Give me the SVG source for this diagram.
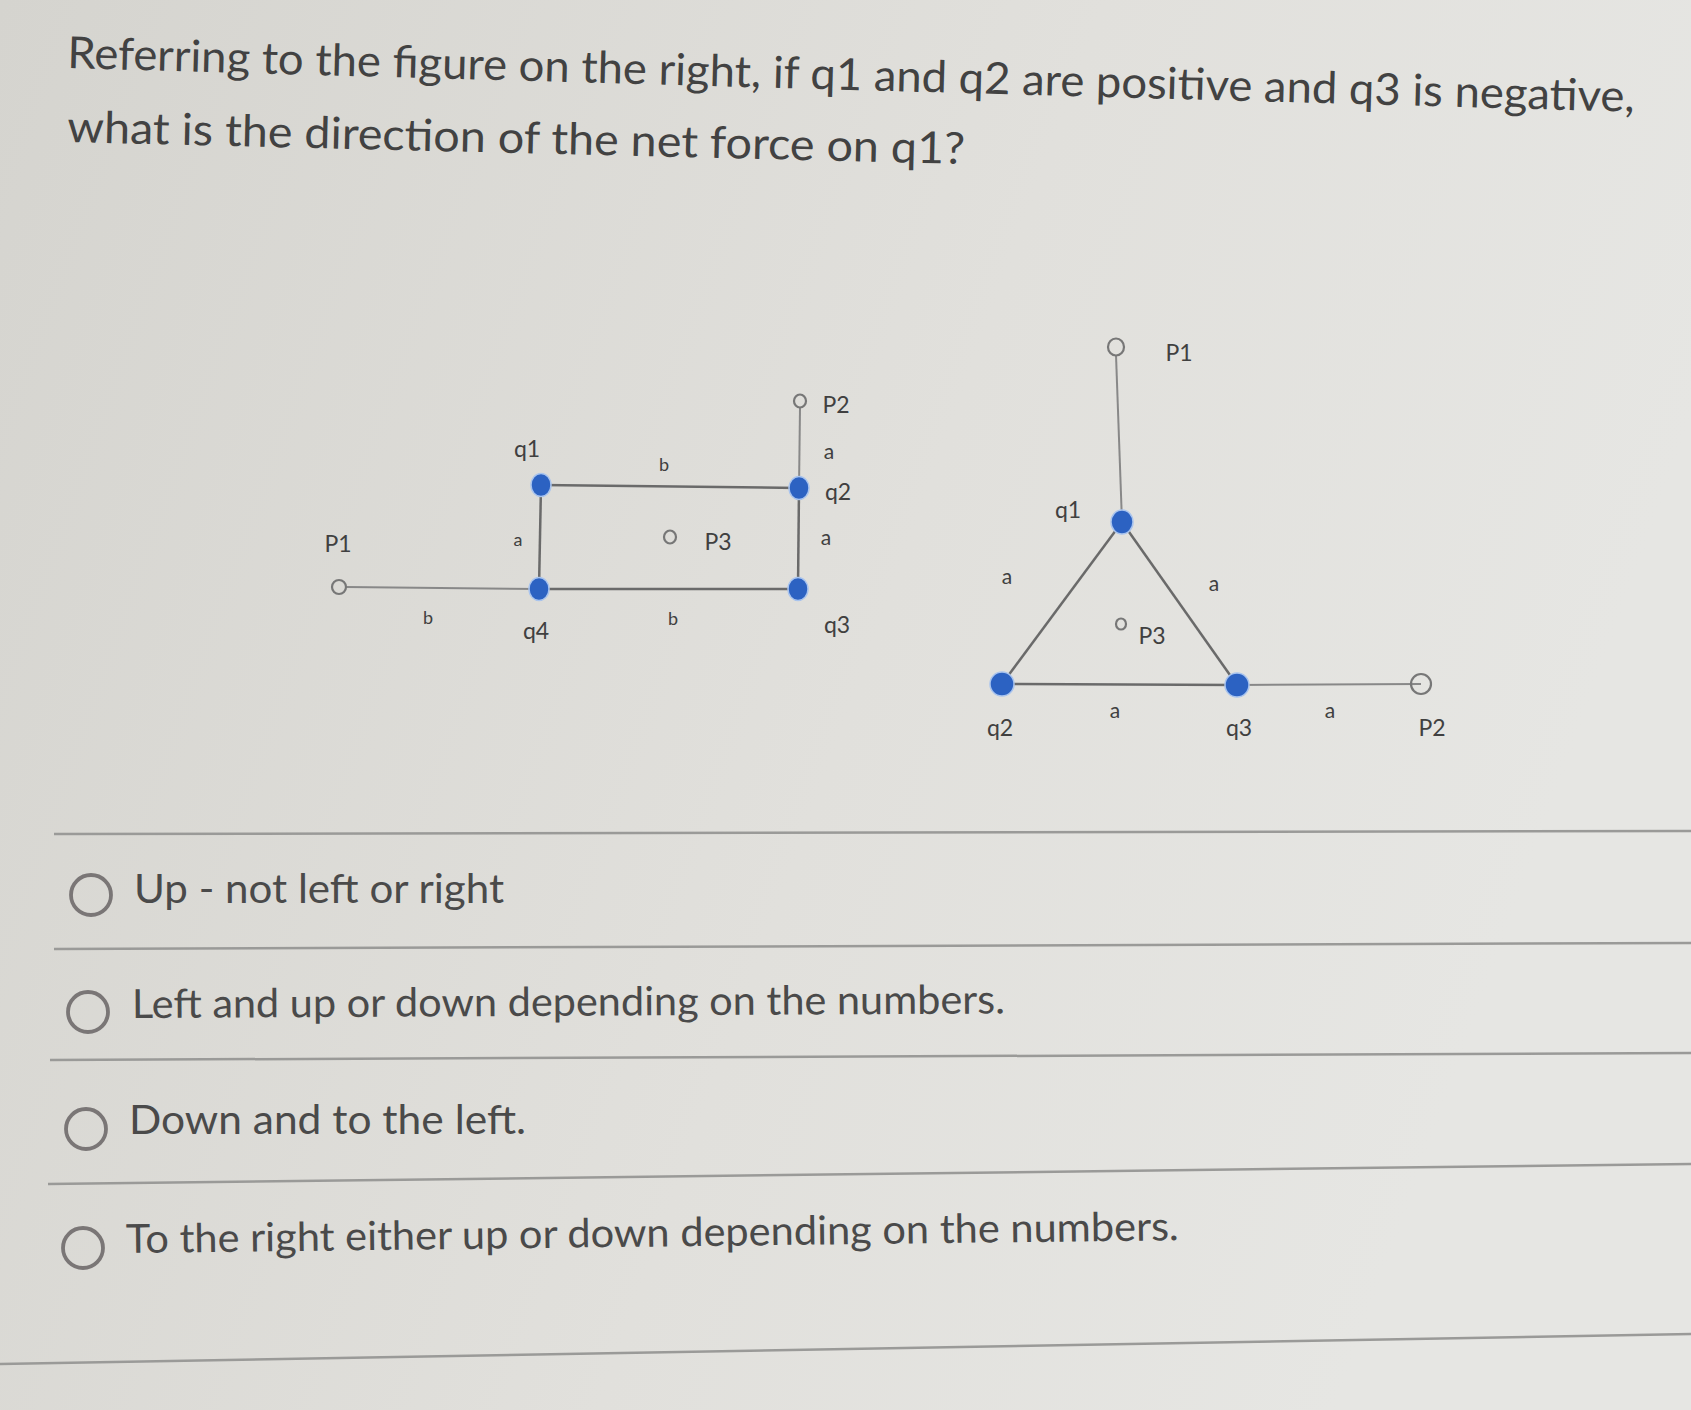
<svg xmlns="http://www.w3.org/2000/svg" width="1691" height="1410" viewBox="0 0 1691 1410">
<defs>
<linearGradient id="bg" x1="0" y1="0" x2="1" y2="0.3">
<stop offset="0" stop-color="#d5d4cf"/>
<stop offset="0.6" stop-color="#e1e0dc"/>
<stop offset="1" stop-color="#e6e6e3"/>
</linearGradient>
<style>
.t{font-family:Lato,"Open Sans",sans-serif;fill:#424242}
.q{font-size:44px}
.opt{font-size:40px;fill:#4a4a4a}
.lab{font-family:Lato,"Open Sans",sans-serif;fill:#404040;font-size:23px;text-anchor:middle}
.sm{font-size:18px}
.md{font-size:21px}
.ln{stroke:#888;stroke-width:2;fill:none}
.dk{stroke:#6a6a6a;stroke-width:2.5}
.chg{fill:#2c62c2;stroke:#a9c4ee;stroke-width:1.5}
.pt{fill:none;stroke:#777;stroke-width:2.2}
.sep{stroke:#9a9a98;stroke-width:2.5;fill:none}
.radio{fill:none;stroke:#7a7676;stroke-width:3.8}
</style>
</defs>
<rect width="1691" height="1410" fill="url(#bg)"/>

<g id="question">
<text class="t q" x="67" y="68" textLength="1568" lengthAdjust="spacingAndGlyphs" transform="rotate(1.6 67 68)">Referring to the figure on the right, if q1 and q2 are positive and q3 is negative,</text>
<text class="t q" x="67" y="142" textLength="898" lengthAdjust="spacingAndGlyphs" transform="rotate(1.4 67 142)">what is the direction of the net force on q1?</text>
</g>

<g id="connectors">
<line class="ln" x1="346" y1="587" x2="539" y2="589"/>
<line class="ln dk" x1="541" y1="485" x2="799" y2="488"/>
<line class="ln dk" x1="539" y1="589" x2="798" y2="589"/>
<line class="ln dk" x1="541" y1="485" x2="539" y2="589"/>
<line class="ln dk" x1="799" y1="488" x2="798" y2="589"/>
<line class="ln" x1="800" y1="408" x2="799" y2="488"/>
<line class="ln" x1="1116" y1="355" x2="1122" y2="522"/>
<line class="ln dk" x1="1122" y1="522" x2="1002" y2="684"/>
<line class="ln dk" x1="1122" y1="522" x2="1237" y2="685"/>
<line class="ln dk" x1="1002" y1="684" x2="1237" y2="685"/>
<line class="ln" x1="1237" y1="685" x2="1421" y2="684"/>
</g>

<g id="rect-P1"><ellipse class="pt" cx="339" cy="587" rx="7" ry="7"/><text class="lab" x="338" y="552">P1</text></g>
<g id="rect-q1"><ellipse class="chg" cx="541" cy="485" rx="10" ry="11.5"/><text class="lab" x="527" y="457">q1</text></g>
<g id="rect-q2"><ellipse class="chg" cx="799" cy="488" rx="10" ry="11.5"/><text class="lab" x="838" y="500">q2</text></g>
<g id="rect-q3"><ellipse class="chg" cx="798" cy="589" rx="10" ry="11.5"/><text class="lab" x="837" y="633">q3</text></g>
<g id="rect-q4"><ellipse class="chg" cx="539" cy="589" rx="10" ry="11.5"/><text class="lab" x="536" y="639">q4</text></g>
<g id="rect-P2"><ellipse class="pt" cx="800" cy="401" rx="6" ry="6.5"/><text class="lab" x="836" y="413">P2</text></g>
<g id="rect-P3"><ellipse class="pt" cx="670" cy="537" rx="6" ry="6.5"/><text class="lab" x="718" y="550">P3</text></g>
<g id="rect-labels">
<text class="lab sm" x="664" y="471">b</text>
<text class="lab md" x="829" y="459">a</text>
<text class="lab sm" x="518" y="546">a</text>
<text class="lab md" x="826" y="545">a</text>
<text class="lab sm" x="428" y="624">b</text>
<text class="lab sm" x="673" y="625">b</text>
</g>

<g id="tri-P1"><ellipse class="pt" cx="1116" cy="347" rx="8" ry="8.5"/><text class="lab" x="1179" y="361">P1</text></g>
<g id="tri-q1"><ellipse class="chg" cx="1122" cy="522" rx="11" ry="12"/><text class="lab" x="1068" y="518">q1</text></g>
<g id="tri-q2"><ellipse class="chg" cx="1002" cy="684" rx="12" ry="12"/><text class="lab" x="1000" y="736">q2</text></g>
<g id="tri-q3"><ellipse class="chg" cx="1237" cy="685" rx="12" ry="12"/><text class="lab" x="1239" y="736">q3</text></g>
<g id="tri-P2"><ellipse class="pt" cx="1421" cy="684" rx="10" ry="10"/><text class="lab" x="1432" y="736">P2</text></g>
<g id="tri-P3"><ellipse class="pt" cx="1121" cy="624" rx="5" ry="5.5"/><text class="lab" x="1152" y="644">P3</text></g>
<g id="tri-labels">
<text class="lab md" x="1007" y="584">a</text>
<text class="lab md" x="1214" y="591">a</text>
<text class="lab md" x="1115" y="718">a</text>
<text class="lab md" x="1330" y="718">a</text>
</g>

<g id="separators">
<line class="sep" x1="54" y1="834" x2="1691" y2="831"/>
<line class="sep" x1="54" y1="949" x2="1691" y2="943"/>
<line class="sep" x1="50" y1="1060" x2="1691" y2="1053"/>
<line class="sep" x1="48" y1="1184" x2="1691" y2="1164"/>
<line class="sep" x1="0" y1="1364" x2="1691" y2="1334"/>
</g>

<g id="option1"><ellipse class="radio" cx="91" cy="895" rx="20" ry="20"/><text class="t opt" x="134" y="903" textLength="370" lengthAdjust="spacingAndGlyphs">Up - not left or right</text></g>
<g id="option2"><ellipse class="radio" cx="88" cy="1012" rx="20" ry="20"/><text class="t opt" x="132" y="1018" textLength="873" lengthAdjust="spacingAndGlyphs" transform="rotate(-0.3 132 1018)">Left and up or down depending on the numbers.</text></g>
<g id="option3"><ellipse class="radio" cx="86" cy="1129" rx="20" ry="20"/><text class="t opt" x="129" y="1134" textLength="397" lengthAdjust="spacingAndGlyphs">Down and to the left.</text></g>
<g id="option4"><ellipse class="radio" cx="83" cy="1248" rx="20" ry="20"/><text class="t opt" x="126" y="1253" textLength="1053" lengthAdjust="spacingAndGlyphs" transform="rotate(-0.7 126 1253)">To the right either up or down depending on the numbers.</text></g>
</svg>
